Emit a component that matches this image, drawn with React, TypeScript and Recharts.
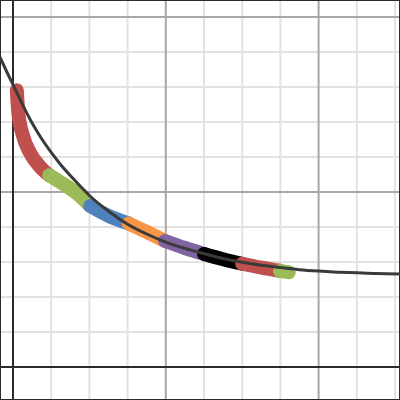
import React from "react";
import { ComposedChart, Line, XAxis, YAxis, CartesianGrid } from "recharts";

const X_DOMAIN: [number, number] = [-0.3403, 10.1309];
const Y_DOMAIN: [number, number] = [-0.9429, 10.4857];

const minorX = [1, 2, 3, 5, 6, 7, 9, 10];
const minorY = [1, 2, 3, 4, 6, 7, 8, 9];
const majorX = [4, 8];
const majorY = [5, 10];
const axisX = [0];
const axisY = [0];

const curveX = [-0.34, -0.17, 0, 0.25, 0.5, 0.75, 1, 1.25, 1.5, 1.75, 2, 2.5, 3, 3.5, 4, 4.5, 5, 5.5, 6, 6.5, 7, 7.5, 8, 8.5, 9, 9.5, 10.13];
const curveY = [8.85, 8.45, 8.07, 7.5, 6.97, 6.52, 6.13, 5.78, 5.47, 5.18, 4.9, 4.45, 4.08, 3.8, 3.57, 3.39, 3.24, 3.1, 2.99, 2.91, 2.84, 2.78, 2.74, 2.71, 2.69, 2.67, 2.66];

const red1X = [0.1, 0.14, 0.27, 0.45, 0.71, 0.95];
const red1Y = [7.91, 7.26, 6.58, 6.11, 5.72, 5.48];
const green1X = [0.95, 1.23, 1.67, 2.02];
const green1Y = [5.48, 5.29, 4.96, 4.6];
const blueX = [2.02, 2.5, 3.03];
const blueY = [4.6, 4.32, 4.1];
const orangeX = [3.03, 3.5, 3.98];
const orangeY = [4.1, 3.86, 3.6];
const purpleX = [3.98, 4.5, 5.0];
const purpleY = [3.6, 3.4, 3.23];
const blackX = [5.0, 5.5, 6.0];
const blackY = [3.23, 3.08, 2.95];
const red2X = [6.0, 6.5, 6.99];
const red2Y = [2.95, 2.84, 2.75];
const green2X = [6.99, 7.22];
const green2Y = [2.74, 2.71];

const segX = [red1X, green1X, blueX, orangeX, purpleX, blackX, red2X, green2X];
const segY = [red1Y, green1Y, blueY, orangeY, purpleY, blackY, red2Y, green2Y];
const segColors = ["#c0504d", "#9bbb59", "#4f81bd", "#f79646", "#8064a2", "#000000", "#c0504d", "#9bbb59"];

const toRows = (xs: number[], ys: number[]) => xs.map((x, i) => ({ x, y: ys[i] }));

export default function App() {
  const curveData = toRows(curveX, curveY);
  return (
    <div style={{ position: "fixed", left: 0, top: 0, width: 400, height: 400, background: "#fff" }}>
      <ComposedChart width={400} height={400} margin={{ top: 0, right: 0, bottom: 0, left: 0 }}>
        <XAxis type="number" dataKey="x" domain={X_DOMAIN} allowDataOverflow ticks={minorX} hide />
        <YAxis type="number" dataKey="y" domain={Y_DOMAIN} allowDataOverflow ticks={minorY} hide />
        <XAxis xAxisId="major" type="number" dataKey="x" domain={X_DOMAIN} allowDataOverflow ticks={majorX} hide />
        <YAxis yAxisId="major" type="number" dataKey="y" domain={Y_DOMAIN} allowDataOverflow ticks={majorY} hide />
        <XAxis xAxisId="axis" type="number" dataKey="x" domain={X_DOMAIN} allowDataOverflow ticks={axisX} hide />
        <YAxis yAxisId="axis" type="number" dataKey="y" domain={Y_DOMAIN} allowDataOverflow ticks={axisY} hide />
        <CartesianGrid stroke="#e2e2e2" strokeWidth={2} />
        <CartesianGrid xAxisId="major" yAxisId="major" stroke="#a8a8a8" strokeWidth={2} />
        <CartesianGrid xAxisId="axis" yAxisId="axis" stroke="#2b2b2b" strokeWidth={2} />
        {segX.map((xs, i) => (
          <Line
            key={i}
            data={toRows(xs, segY[i])}
            dataKey="y"
            type="monotone"
            stroke={segColors[i]}
            strokeWidth={14}
            strokeLinecap="round"
            strokeLinejoin="round"
            dot={false}
            activeDot={false}
            isAnimationActive={false}
          />
        ))}
        <Line
          data={curveData}
          dataKey="y"
          type="monotone"
          stroke="#3a3a3a"
          strokeWidth={3}
          dot={false}
          activeDot={false}
          isAnimationActive={false}
        />
      </ComposedChart>
    </div>
  );
}
